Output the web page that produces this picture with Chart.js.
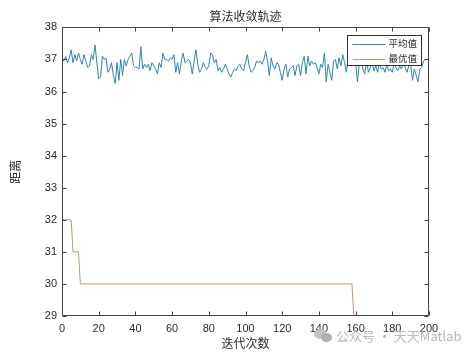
<!DOCTYPE html>
<html><head><meta charset="utf-8">
<script src="https://cdn.jsdelivr.net/npm/chart.js@4.4.0/dist/chart.umd.min.js"></script>
<style>
html,body{margin:0;padding:0;background:#fff;}
#wrap{position:relative;width:474px;height:355px;}
#wm{position:absolute;left:314px;top:328px;font:13px "Noto Sans CJK SC",sans-serif;color:#b8b8b8;white-space:nowrap;line-height:16px;}
#wm .ic{display:inline-block;position:relative;width:20px;height:14px;vertical-align:-2px;margin-right:2px;}
#wm .ic i{position:absolute;border-radius:50%;background:#c4c4c4;}
</style></head><body>
<div id="wrap"><canvas id="c" width="474" height="355"></canvas>
<div id="wm"><span class="ic"><i style="left:0;top:0;width:12px;height:10px"></i><i style="left:7px;top:4px;width:11px;height:9px;background:#b0b0b0"></i></span>公众号 · 天天Matlab</div></div>
<script>
const titleText = '算法收敛轨迹';
const xLabel = '迭代次数';
const yLabel = '距离';
const seriesNames = ['平均值', '最优值'];
const iterations = Array.from({length: 201}, (_, i) => i);
const avgValues = [
  37.0, 36.95, 37.1, 36.9, 37.05, 37.3, 36.9, 37.15, 36.95, 37.2,
  37.0, 36.85, 37.15, 36.95, 36.75, 36.8, 37.15, 37.0, 37.45, 36.9,
  36.4, 36.45, 37.1, 37.0, 37.05, 36.6, 36.7, 36.9, 36.5, 36.25,
  36.9, 36.35, 37.0, 36.5, 37.0, 36.8, 37.0, 37.1, 37.2, 36.8,
  36.75, 36.75, 36.7, 37.4, 36.7, 36.85, 36.75, 36.85, 36.65, 36.9,
  36.8, 36.7, 36.55, 36.9, 36.75, 37.2, 37.0, 37.0, 36.95, 37.05,
  37.0, 37.15, 36.6, 36.9, 36.55, 36.95, 37.2, 36.9, 36.95, 37.0,
  36.9, 36.55, 36.95, 37.3, 36.85, 36.6, 36.7, 36.9, 36.75, 36.7,
  36.8, 37.2, 37.15, 36.9, 37.0, 36.65, 36.75, 36.6, 36.7, 36.85,
  36.7, 36.55, 36.45, 36.6, 36.7, 36.65, 36.8, 36.85, 36.7, 36.65,
  36.9, 37.15, 36.8, 36.6, 36.65, 36.75, 36.95, 36.9, 36.95, 36.85,
  37.0, 37.25, 36.95, 36.5, 37.05, 36.8, 36.7, 36.9, 36.85, 36.6,
  36.35, 36.7, 36.85, 36.45, 36.7, 36.75, 36.8, 36.5, 36.8, 36.85,
  36.5, 36.9, 37.1, 36.55, 37.1, 36.8, 36.95, 36.85, 36.9, 36.75,
  36.55, 36.85, 36.75, 37.2, 36.3, 36.85, 36.6, 36.35, 36.95, 37.0,
  36.7, 37.05, 36.8, 37.15, 36.9, 36.6, 37.1, 36.8, 37.0, 36.85,
  36.9, 36.3, 36.85, 36.9, 36.7, 36.55, 36.95, 36.6, 36.75, 36.9,
  36.65, 36.8, 36.6, 36.9, 36.7, 36.75, 36.6, 36.85, 36.65, 36.7,
  36.6, 36.9, 36.75, 36.65, 36.8, 36.7, 36.9, 36.75, 36.6, 36.8,
  36.85, 36.35, 36.7, 36.5, 36.3, 36.7, 36.75, 36.95, 37.0, 37.0,
  37.0
];
const bestIters = [0, 5, 6, 9, 10, 158, 159, 200];
const bestValues = [32, 32, 31, 31, 30, 30, 29, 29];
const xTicks = [0, 20, 40, 60, 80, 100, 120, 140, 160, 180, 200];
const yTicks = [29, 30, 31, 32, 33, 34, 35, 36, 37, 38];

const AXIS_COLOR = '#444444';
const TEXT_COLOR = '#2b2b2b';
const cjk = '"Noto Sans CJK SC", sans-serif';
const latin = '"Liberation Sans", Arial, sans-serif';

const framePlugin = {
  id: 'frame',
  afterDraw(chart) {
    const ctx = chart.ctx, a = chart.chartArea;
    const xs = chart.scales.x, ys = chart.scales.y;
    ctx.save();
    ctx.strokeStyle = AXIS_COLOR;
    ctx.lineWidth = 1;
    const L = Math.round(a.left) + 0.5, R = Math.round(a.right) - 0.5;
    const T = Math.round(a.top) + 0.5, B = Math.round(a.bottom) - 0.5;
    ctx.beginPath();
    ctx.rect(L, T, R - L, B - T);
    const tl = 4;
    xs.ticks.forEach(t => {
      const px = Math.round(xs.getPixelForValue(t.value)) + 0.5;
      ctx.moveTo(px, B); ctx.lineTo(px, B - tl);
      ctx.moveTo(px, T); ctx.lineTo(px, T + tl);
    });
    ys.ticks.forEach(t => {
      const py = Math.round(ys.getPixelForValue(t.value)) + 0.5;
      ctx.moveTo(L, py); ctx.lineTo(L + tl, py);
      ctx.moveTo(R, py); ctx.lineTo(R - tl, py);
    });
    ctx.stroke();

    // legend box inside the axes (top-right)
    const ds = chart.data.datasets;
    const bw = 74, bh = 30;
    const x0 = Math.round(a.right) - 8 - bw + 0.5;
    const y0 = Math.round(a.top) + 8 + 0.5;
    ctx.fillStyle = '#ffffff';
    ctx.fillRect(x0, y0, bw, bh);
    ctx.strokeStyle = '#333333';
    ctx.strokeRect(x0, y0, bw, bh);
    ctx.font = '9.5px ' + cjk;
    ctx.textBaseline = 'middle';
    ctx.textAlign = 'left';
    ds.forEach((d, i) => {
      const yy = y0 + 8 + i * 15;
      ctx.strokeStyle = d.borderColor;
      ctx.beginPath();
      ctx.moveTo(x0 + 5, Math.round(yy) + 0.5);
      ctx.lineTo(x0 + 38, Math.round(yy) + 0.5);
      ctx.stroke();
      ctx.fillStyle = TEXT_COLOR;
      ctx.fillText(d.label, x0 + 41, yy);
    });
    ctx.restore();
  }
};

new Chart(document.getElementById('c'), {
  type: 'line',
  data: {
    datasets: [
      {
        label: seriesNames[0],
        data: iterations.map((x, i) => ({x, y: avgValues[i]})),
        borderColor: '#2e86aa',
        borderWidth: 1,
        pointRadius: 0,
        tension: 0,
        fill: false
      },
      {
        label: seriesNames[1],
        data: bestIters.map((x, i) => ({x, y: bestValues[i]})),
        borderColor: '#c8946f',
        borderWidth: 1,
        pointRadius: 0,
        tension: 0,
        fill: false
      }
    ]
  },
  options: {
    responsive: false,
    animation: false,
    events: [],
    layout: {padding: {left: 0, right: 45, top: 0, bottom: 0}},
    plugins: {
      legend: {display: false},
      tooltip: {enabled: false},
      title: {
        display: true,
        text: titleText,
        fullSize: false,
        color: TEXT_COLOR,
        font: {family: cjk, size: 12, weight: 'normal'},
        padding: {top: 9, bottom: 4}
      }
    },
    scales: {
      x: {
        type: 'linear',
        min: 0, max: 200,
        afterBuildTicks: s => { s.ticks = xTicks.map(v => ({value: v})); },
        afterFit: s => { s.height = 39; },
        grid: {display: false, drawTicks: false},
        border: {display: false},
        ticks: {color: TEXT_COLOR, font: {family: latin, size: 11}, padding: 6, maxRotation: 0},
        title: {display: true, text: xLabel, color: TEXT_COLOR, font: {family: cjk, size: 12}, padding: {top: 0, bottom: 4}}
      },
      y: {
        type: 'linear',
        min: 29, max: 38,
        afterBuildTicks: s => { s.ticks = yTicks.map(v => ({value: v})); },
        afterFit: s => { s.width = 62; },
        grid: {display: false, drawTicks: false},
        border: {display: false},
        ticks: {color: TEXT_COLOR, font: {family: latin, size: 11}, padding: 5},
        title: {display: true, text: yLabel, color: TEXT_COLOR, font: {family: cjk, size: 12}, padding: {top: 8, bottom: 0}}
      }
    }
  },
  plugins: [framePlugin]
});
</script>
</body></html>
